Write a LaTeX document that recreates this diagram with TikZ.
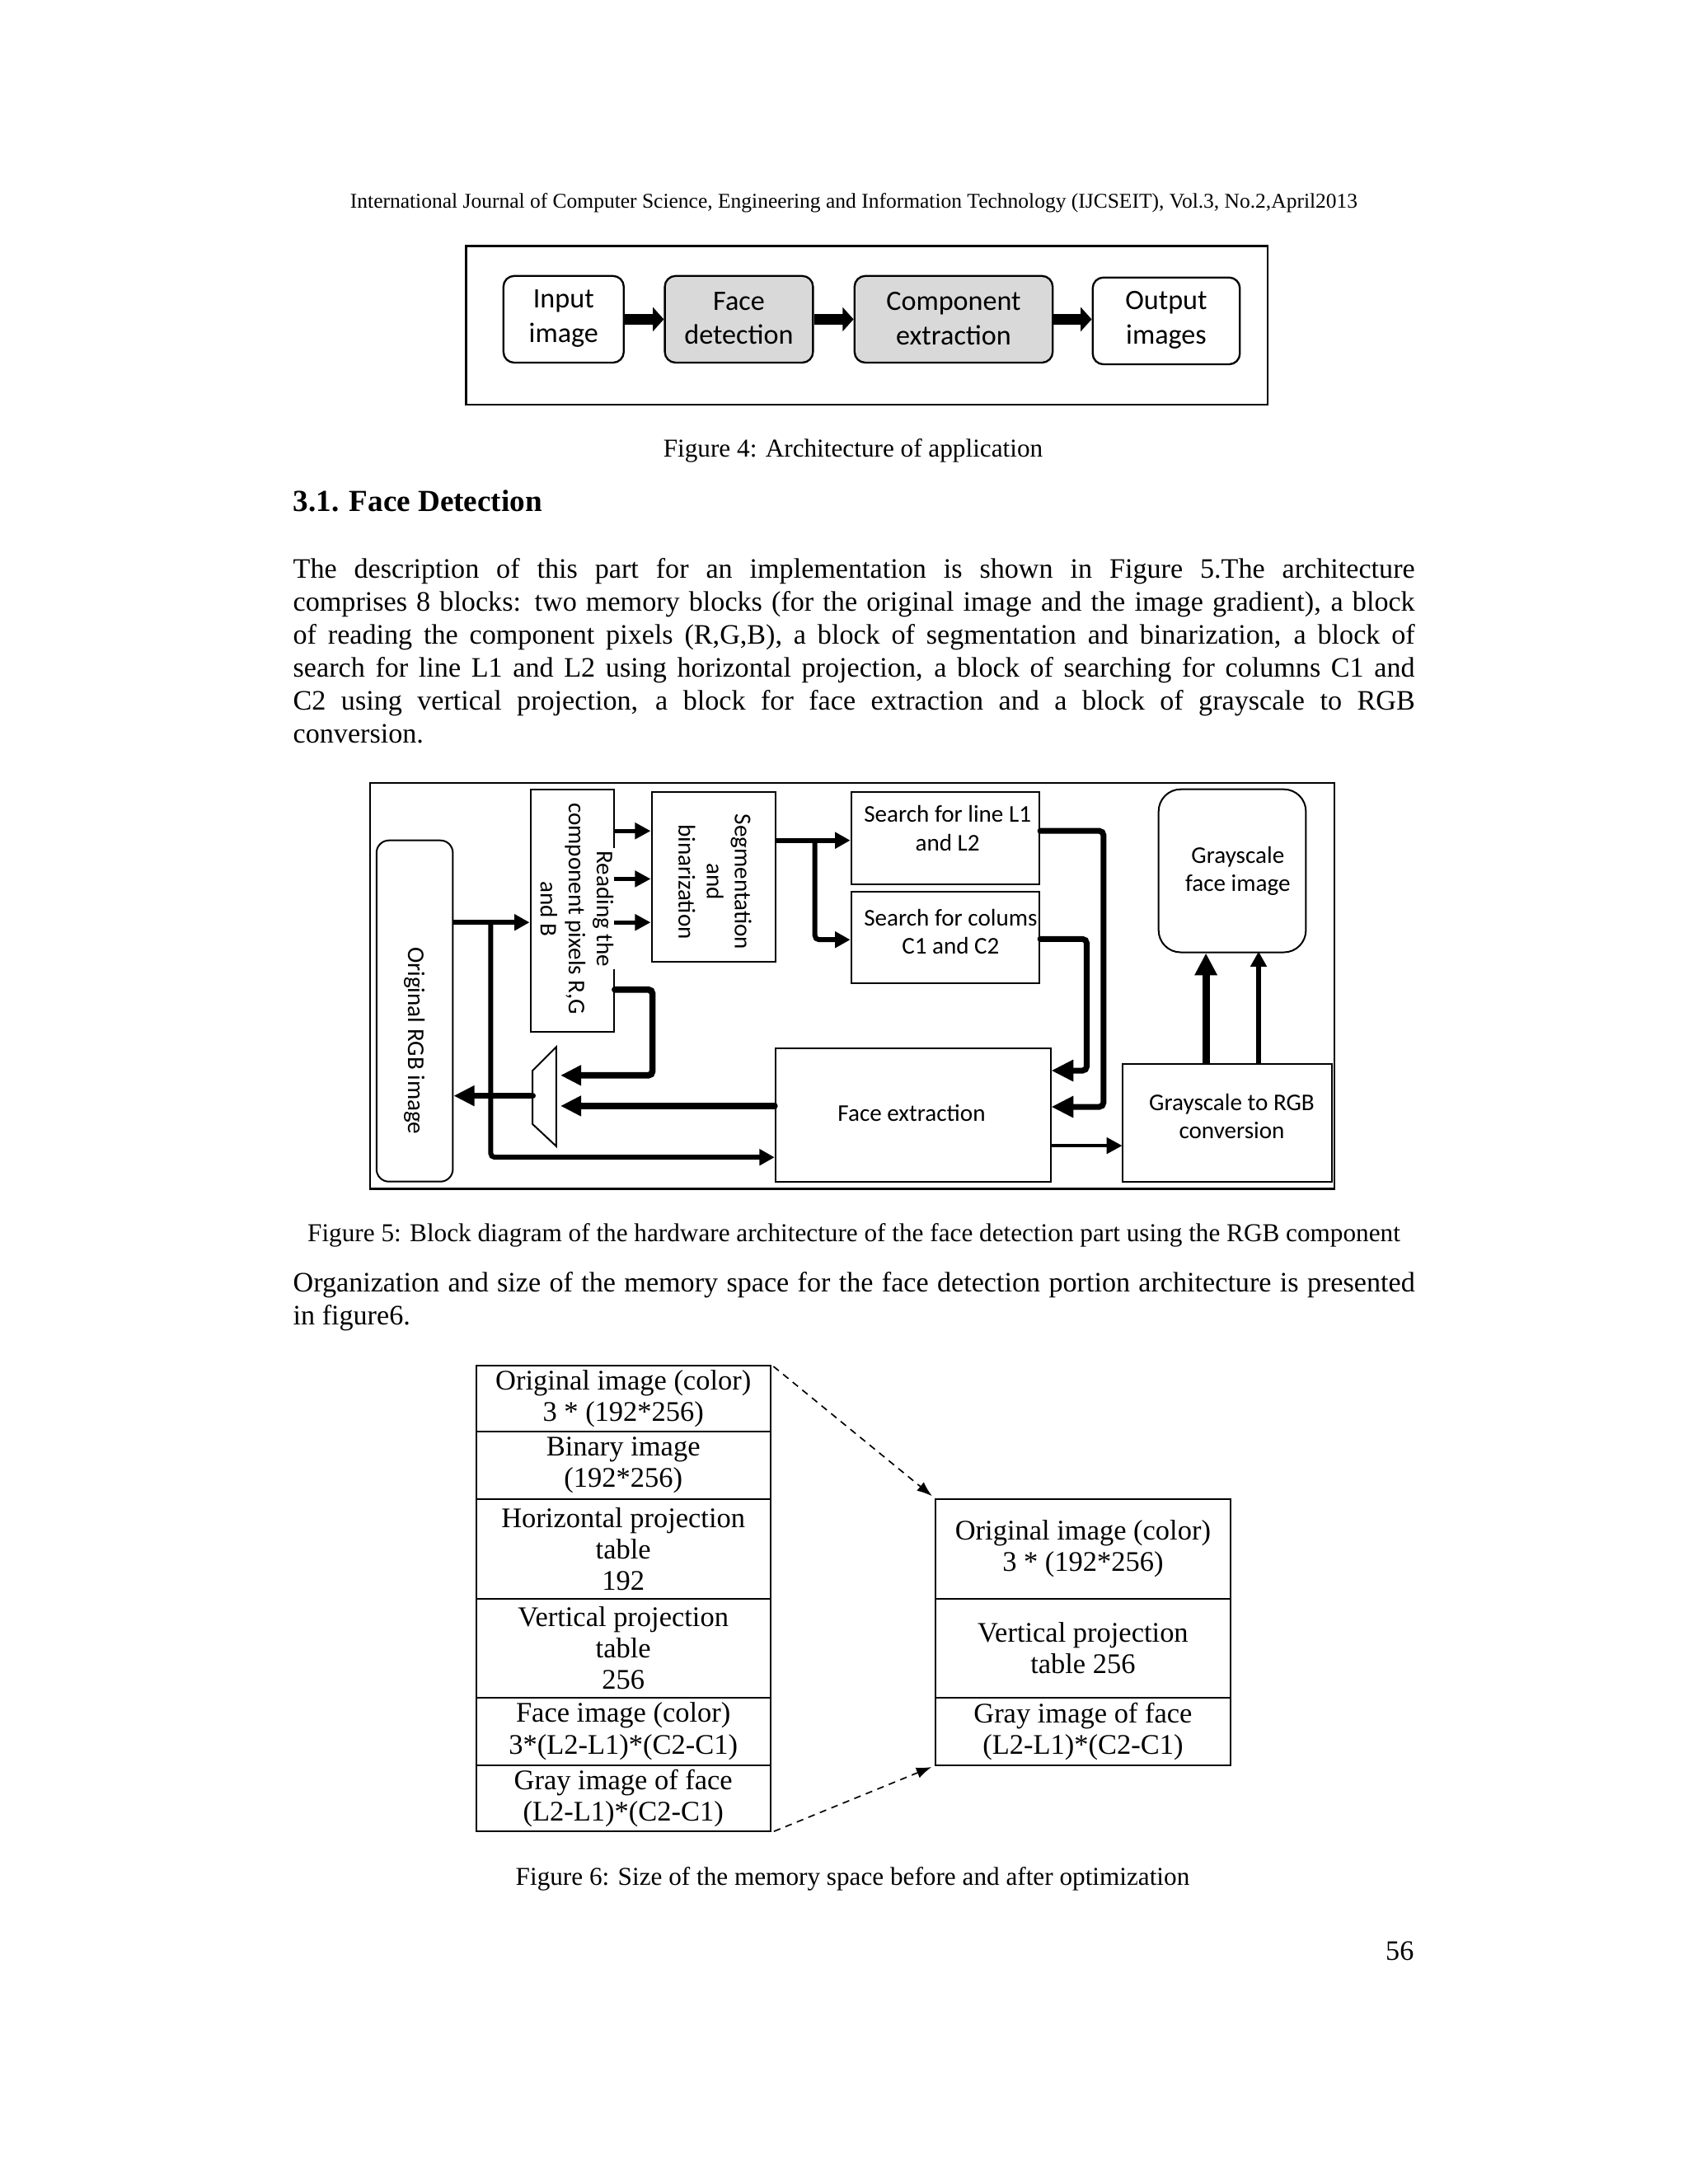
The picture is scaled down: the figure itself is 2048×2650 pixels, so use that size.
\documentclass[tikz,border=0pt]{standalone}
\usepackage{fontspec}
\setmainfont{Liberation Serif}
\newfontfamily\carl{Carlito}
\usetikzlibrary{arrows.meta,fit,calc}
\definecolor{boxgray}{gray}{0.85}
\begin{document}
\begin{tikzpicture}[x=0.298828pt,y=-0.298828pt,
  box4/.style={draw, line width=0.7pt, rounded corners=3.9pt, inner sep=0pt},
  g4/.style={box4, fill=boxgray},
  t4/.style={inner sep=0pt, align=center, font=\carl\fontsize{10.2}{12.4}\selectfont},
  fat/.style={line width=3.9pt, -{Triangle[length=4pt,width=8.6pt]}},
  blk/.style={draw, line width=0.6pt, inner sep=0pt},
  t5/.style={font=\carl\fontsize{8.7}{10.2}\selectfont, align=center, inner sep=0pt},
  a16/.style={line width=1.6pt, -{Triangle[length=5.7pt,width=5.7pt]}},
  a18/.style={line width=1.8pt, -{Triangle[length=5.5pt,width=5.7pt]}},
  a21/.style={line width=2.1pt, line cap=round, rounded corners=1.5pt, -{Triangle[length=8pt,width=7.4pt]}},
  a23/.style={line width=2.3pt, line cap=round, rounded corners=1.5pt, -{Triangle[length=7.5pt,width=7pt]}},
  a14/.style={line width=1.4pt, -{Triangle[length=5.7pt,width=5.7pt]}},
  a27/.style={line width=2.7pt, -{Triangle[length=8pt,width=7.7pt]}},
  cell/.style={draw, line width=0.6pt, inner sep=0pt},
  t6/.style={inner sep=0pt, align=center, font=\fontsize{10.3}{11.4}\selectfont},
  darr/.style={line width=0.5pt, dash pattern=on 2.5pt off 2pt, -{Latex[length=5.5pt,width=4pt]}},
  bline/.style={anchor=base west, inner sep=0pt, font=\fontsize{10.2}{12}\selectfont},
  capt/.style={anchor=base, inner sep=0pt, font=\fontsize{9.33}{11}\selectfont}
]
\useasboundingbox[fill=white] (0,0) rectangle (2048,2650);

% ---------- page text ----------
\node[anchor=base, inner sep=0pt, font=\fontsize{7.62}{9}\selectfont] (hdr) at (1036,252)
  {International Journal of Computer Science, Engineering and Information Technology (IJCSEIT), Vol.3, No.2,April2013};
\node[capt] (cap4) at (1035,554) {Figure 4: Architecture of application};
\node[anchor=base west, inner sep=0pt, font=\bfseries\fontsize{11.1}{13}\selectfont] (head) at (355,620) {3.1. Face Detection};
\node[bline] (b1) at (355,701.5) {\makebox[406.7pt][s]{The description of this part for an implementation is shown in Figure 5.The architecture}};
\node[bline] (b2) at (355,741.5) {\makebox[406.7pt][s]{comprises 8 blocks: two memory blocks (for the original image and the image gradient), a block}};
\node[bline] (b3) at (355,781.5) {\makebox[406.7pt][s]{of reading the component pixels (R,G,B), a block of segmentation and binarization, a block of}};
\node[bline] (b4) at (355,821.5) {\makebox[406.7pt][s]{search for line L1 and L2 using horizontal projection, a block of searching for columns C1 and}};
\node[bline] (b5) at (355,861.5) {\makebox[406.7pt][s]{C2 using vertical projection, a block for face extraction and a block of grayscale to RGB}};
\node[bline] (b6) at (355,901.5) {conversion.};
\node[capt] (cap5) at (1036,1506) {Figure 5: Block diagram of the hardware architecture of the face detection part using the RGB component};
\node[bline] (o1) at (355,1567) {\makebox[406.7pt][s]{Organization and size of the memory space for the face detection portion architecture is presented}};
\node[bline] (o2) at (355,1607) {in figure6.};
\node[capt] (cap6) at (1034.5,2287) {Figure 6: Size of the memory space before and after optimization};
\node[anchor=base east, inner sep=0pt, font=\fontsize{10.2}{12}\selectfont] (pg) at (1716,2378) {56};

% ---------- Figure 4 ----------
\draw[line width=0.8pt] (565.5,298.5) rectangle (1538,491);
\node[box4, fit={(610.8,334.8) (756.8,440)}] (in) {};
\node[g4, fit={(806.6,334.8) (986.4,440)}] (fd) {};
\node[g4, fit={(1036.8,334.8) (1277.2,440)}] (ce) {};
\node[box4, fit={(1325.7,336.7) (1504.3,442)}] (out) {};
\node[t4] (int) at ($(in.center)+(0,-1)$) {Input\\image};
\node[t4] (fdt) at ($(fd.center)+(0,-1)$) {Face\\detection};
\node[t4] (cet) at ($(ce.center)+(0,-1)$) {Component\\extraction};
\node[t4] (outt) at ($(out.center)+(0,-1)$) {Output\\images};
\draw[fat] (in.east) -- (fd.west);
\draw[fat] (fd.east) -- (ce.west);
\draw[fat] (ce.east) -- (out.west |- ce.east);

% ---------- Figure 5 ----------
\draw[line width=0.8pt] (449.1,950) rectangle (1618.9,1442.5);
\node[blk, rounded corners=4.5pt, fit={(456.8,1019.7) (549.4,1433.7)}] (rgb) {};
\node[t5, rotate=-90] (rgbt) at (502.7,1262.7) {Original RGB image};
\node[blk, fit={(643.5,957.7) (744.9,1251.9)}] (read) {};
\node[t5, rotate=-90] (readt) at (701.7,1102.7) {{\fboxsep=1pt\colorbox{white}{Reading the}}\\component pixels R,G\\and B};
\node[blk, fit={(790.5,961.1) (940.8,1167)}] (seg) {};
\node[t5, rotate=-90] (segt) at (867.5,1070) {Segmentation\\and\\binarization};
\node[blk, fit={(1032.6,961.1) (1261.1,1072.5)}] (sl) {};
\node[t5] (slt) at (1149.7,1005) {Search for line L1\\and L2};
\node[blk, fit={(1032.6,1081.7) (1261.1,1193)}] (sc) {};
\node[t5] (sct) at (1153.4,1130) {{\fboxsep=0.5pt\colorbox{white}{Search for colums}}\\C1 and C2};
\node[blk, rounded corners=8pt, fit={(1405.7,957.7) (1584.4,1155.5)}] (gfi) {};
\node[t5] (gfit) at (1501.8,1057.3) {Grayscale\\face image};
\node[blk, fit={(940.8,1272.2) (1274.5,1433.7)}] (fe) {};
\node[t5, anchor=base] (fet) at (1106,1360) {Face extraction};
\node[blk, fit={(1361.7,1290.6) (1615.8,1433.7)}] (g2r) {};
\node[t5] (g2rt) at (1494.5,1354.3) {Grayscale to RGB\\conversion};

% multiplexer
\coordinate (mxa) at (646.2,1299);
\coordinate (mxb) at (674.9,1270.3);
\coordinate (mxc) at (674.9,1390.8);
\coordinate (mxd) at (646.2,1364);
\draw[line width=0.6pt] (mxa) -- (mxb) -- (mxc) -- (mxd) -- cycle;
\coordinate (mr1) at (680,1304.8);
\coordinate (mr2) at (680,1341.9);
\coordinate (ml) at (646.2,1329.6);

% junction points
\coordinate (j1) at (595.3,1119.2);
\coordinate (j2) at (595.3,1404.2);
\coordinate (r1) at (744.9,1008.2);
\coordinate (r2) at (744.9,1066.4);
\coordinate (r3) at (744.9,1119.2);
\coordinate (j3) at (988.7,1019.7);
\coordinate (j4) at (988.7,1140.2);
\coordinate (k1) at (791.6,1200.7);
\coordinate (k2) at (791.6,1304.8);
\coordinate (s1) at (1338.8,1008.2);
\coordinate (s2) at (1338.8,1343);
\coordinate (s3) at (1318.5,1139.4);
\coordinate (s4) at (1318.5,1299);
\coordinate (t1) at (1361.7,1390.1);
\coordinate (u1) at (1463.1,1290.6);
\coordinate (u2) at (1527,1290.6);

\draw[a18] (rgb.east |- j1) -- (read.west |- j1);
\draw[a18, rounded corners=1.5pt] (j1) -- (j2) -- (fe.west |- j2);
\draw[a16] (r1) -- (seg.west |- r1);
\draw[a16] (r2) -- (seg.west |- r2);
\draw[a16] (r3) -- (seg.west |- r3);
\draw[a18] (seg.east |- j3) -- (sl.west |- j3);
\draw[a18, rounded corners=1.5pt] (j3) -- (j4) -- (sc.west |- j4);
\draw[a23] (read.east |- k1) -- (k1) -- (k2) -- (mr1);
\draw[a23] (fe.west |- mr2) -- (mr2);
\draw[a23] (ml) -- (rgb.east |- ml);
\draw[a21] (sl.east |- s1) -- (s1) -- (s2) -- (fe.east |- s2);
\draw[a21] (sc.east |- s3) -- (s3) -- (s4) -- (fe.east |- s4);
\draw[a14] (fe.east |- t1) -- (t1);
\draw[a27] (u1) -- (gfi.south -| u1);
\draw[a18] (u2) -- ($(gfi.south -| u2)+(0,-2)$);

% ---------- Figure 6 ----------
\node[cell, fit={(577.6,1656.8) (934.8,1737.1)}] (L1) {};
\node[cell, fit={(577.6,1737.1) (934.8,1818.8)}] (L2) {};
\node[cell, fit={(577.6,1818.8) (934.8,1939.9)}] (L3) {};
\node[cell, fit={(577.6,1939.9) (934.8,2059.8)}] (L4) {};
\node[cell, fit={(577.6,2059.8) (934.8,2141.5)}] (L5) {};
\node[cell, fit={(577.6,2141.5) (934.8,2222.4)}] (L6) {};
\node[cell, fit={(1135,1818.8) (1492.8,1939.9)}] (R1) {};
\node[cell, fit={(1135,1939.9) (1492.8,2059.8)}] (R2) {};
\node[cell, fit={(1135,2059.8) (1492.8,2141.5)}] (R3) {};
\node[t6] (L1t) at (L1.center) {Original image (color)\\3 * (192*256)};
\node[t6] (L2t) at (L2.center) {Binary image\\(192*256)};
\node[t6] (L3t) at (L3.center) {Horizontal projection\\table\\192};
\node[t6] (L4t) at (L4.center) {Vertical projection\\table\\256};
\node[t6] (L5t) at (L5.center) {Face image (color)\\3*(L2-L1)*(C2-C1)};
\node[t6] (L6t) at (L6.center) {Gray image of face\\(L2-L1)*(C2-C1)};
\node[t6] (R1t) at (R1.center) {Original image (color)\\3 * (192*256)};
\node[t6] (R2t) at (R2.center) {Vertical projection\\table 256};
\node[t6] (R3t) at (R3.center) {Gray image of face\\(L2-L1)*(C2-C1)};
\draw[darr, shorten <=1pt, shorten >=1.2pt] (L1.north east) -- (R1.north west);
\draw[darr, shorten <=1pt, shorten >=1.2pt] (L6.south east) -- (R3.south west);
\end{tikzpicture}
\end{document}
